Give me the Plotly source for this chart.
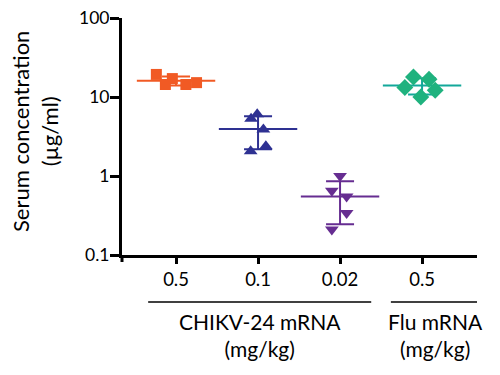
import numpy as np
import plotly.graph_objects as go

# ---- data ----
tick_labels = ["0.5", "0.1", "0.02", "0.5"]
group_pos = [0, 1, 2, 3]

chikv_05 = [19.3, 17.1, 14.4, 14.4, 15.2]
chikv_05_jit = [-0.24, -0.045, -0.13, 0.12, 0.25]
chikv_01 = [5.32, 6.03, 3.89, 2.06, 2.38]
chikv_01_jit = [-0.085, -0.01, 0.065, -0.09, 0.095]
chikv_002 = [1.0, 0.65, 0.55, 0.34, 0.21]
chikv_002_jit = [0.0, -0.10, 0.08, 0.08, -0.10]
flu_05 = [17.9, 16.8, 13.2, 12.2, 10.0]
flu_05_jit = [-0.105, 0.085, -0.21, 0.16, -0.015]

groups = [
    (chikv_05, chikv_05_jit, "square", 11, "#F15A24", "#F15A24"),
    (chikv_01, chikv_01_jit, "triangle-up", 12, "#2E3192", "#2E3192"),
    (chikv_002, chikv_002_jit, "triangle-down", 12, "#662D91", "#662D91"),
    (flu_05, flu_05_jit, "diamond", 13, "#1FB27E", "#13A89A"),
]

FONT = "Lato, 'Open Sans', sans-serif"
fig = go.Figure()

for pos, (vals, jit, sym, size, mcol, lcol) in zip(group_pos, groups):
    v = np.array(vals)
    m = v.mean()
    sd = v.std(ddof=1)
    # mean line + SD error bars
    fig.add_trace(go.Scatter(
        x=[pos], y=[m], mode="markers",
        marker=dict(symbol="line-ew", size=56, line=dict(width=2, color=lcol)),
        error_y=dict(type="data", array=[sd], arrayminus=[sd], width=14,
                     thickness=2, color=lcol),
        showlegend=False, hoverinfo="skip"))
    # points
    fig.add_trace(go.Scatter(
        x=[pos + j for j in jit], y=vals, mode="markers",
        marker=dict(symbol=sym, size=size, color=mcol, line=dict(width=0)),
        showlegend=False))

# page body has an 8px margin; compensate so the figure lands where the reference is
OFF = 8
W, H = 500 - OFF, 375 - OFF
PT, PB = 18 - OFF, 255 - OFF
PL, PR = 122 - OFF, 477 - OFF
PH = PB - PT
PW = PR - PL


def py(ypix_page):
    return (PB - (ypix_page - OFF)) / PH


def px(xpix_page):
    return ((xpix_page - OFF) - PL) / PW


fig.update_layout(
    width=W, height=H,
    margin=dict(l=PL, r=W - PR, t=PT, b=H - PB, autoexpand=False),
    paper_bgcolor="white", plot_bgcolor="white",
    font=dict(family=FONT, size=18, color="black"),
    xaxis=dict(range=[-0.659, 3.67], tickvals=group_pos, ticktext=tick_labels,
               showline=True, linecolor="black", linewidth=3,
               ticks="outside", ticklen=6, tickwidth=3, tickcolor="black",
               showgrid=False, zeroline=False, ticklabelstandoff=0,
               ticklabeloverflow="allow", tickfont=dict(size=18.5)),
    yaxis=dict(type="log", range=[-1, 2], tickvals=[0.1, 1, 10, 100],
               ticktext=["0.1", "1", "10", "100"],
               showline=True, linecolor="black", linewidth=3,
               ticks="outside", ticklen=9, tickwidth=3, tickcolor="black",
               showgrid=False, zeroline=False, ticklabelstandoff=-3,
               ticklabeloverflow="allow", tickfont=dict(size=17.5)),
)

# y axis extension below x axis
fig.add_shape(type="line", xref="paper", yref="paper", x0=0, x1=0, y0=0, y1=-7 / PH,
              line=dict(color="black", width=3))

# group underline bars
fig.add_shape(type="line", xref="x", yref="paper", x0=-0.34, x1=2.38,
              y0=py(302), y1=py(302), line=dict(color="black", width=1.5))
fig.add_shape(type="line", xref="x", yref="paper", x0=2.62, x1=3.68,
              y0=py(302), y1=py(302), line=dict(color="black", width=1.5))

# group labels
for xc, t in [(1.02, "CHIKV-24 mRNA<br>(mg/kg)"), (3.16, "Flu mRNA<br>(mg/kg)")]:
    fig.add_annotation(x=xc, xref="x", y=py(335), yref="paper",
                       text=t, showarrow=False, xanchor="center", yanchor="middle",
                       font=dict(family=FONT, size=21, color="black"))

# y axis title
fig.add_annotation(x=px(35), xref="paper", y=py(132), yref="paper",
                   text="Serum concentration<br>(µg/ml)", textangle=-90, showarrow=False,
                   xanchor="center", yanchor="middle",
                   font=dict(family=FONT, size=22, color="black"))

fig.write_html("out.html")
